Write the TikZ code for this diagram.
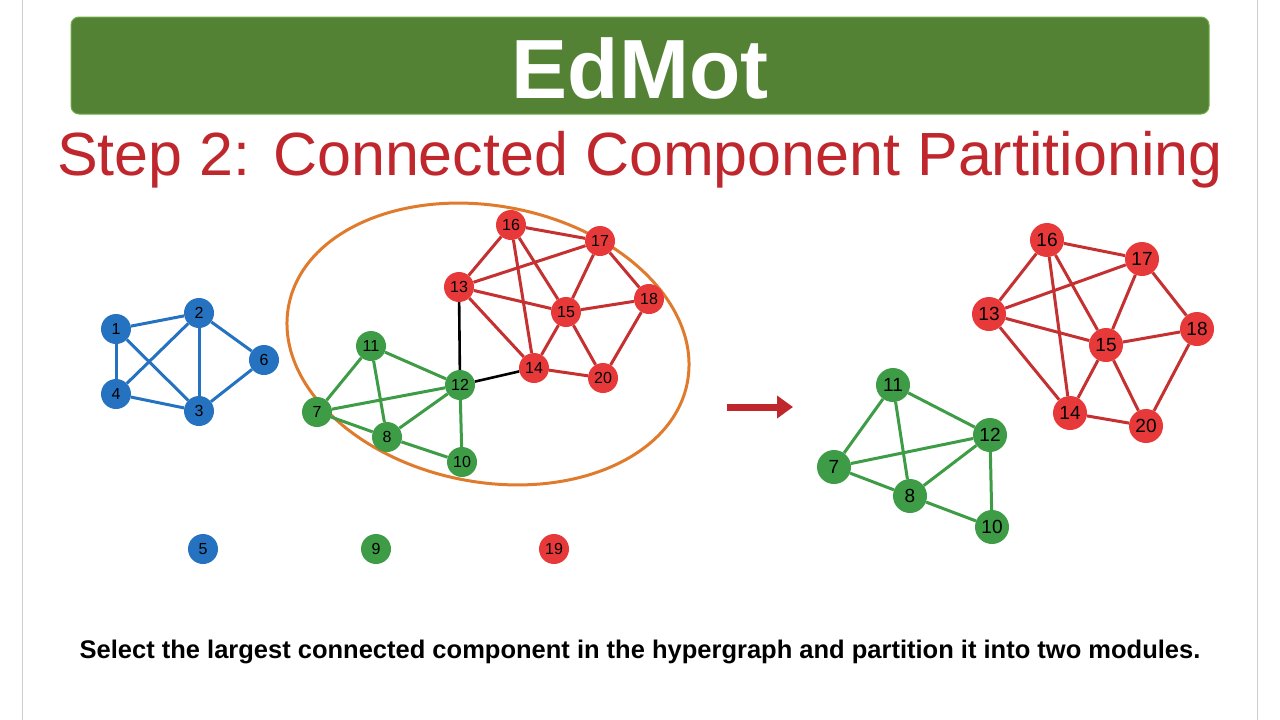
\documentclass[tikz,border=0pt]{standalone}
\usepackage{fontspec}
\setmainfont{Liberation Sans}
\usetikzlibrary{arrows.meta}
\definecolor{bl}{HTML}{2472C0}
\definecolor{gr}{HTML}{3E9B46}
\definecolor{rd}{HTML}{E8393A}
\definecolor{ban}{HTML}{548235}
\definecolor{banb}{HTML}{70AD47}
\definecolor{ttl}{HTML}{C0272D}
\definecolor{orng}{HTML}{E07B2E}
\tikzset{
 nd/.style={circle,minimum size=#1,inner sep=0pt,font=\fontsize{16}{16}\selectfont},
 bn/.style={nd=30pt,fill=bl},
 gn/.style={nd=30pt,fill=gr},
 rn/.style={nd=30pt,fill=rd},
 bgn/.style={nd=34pt,fill=gr,font=\fontsize{19}{19}\selectfont},
 brn/.style={nd=34pt,fill=rd,font=\fontsize{19}{19}\selectfont},
 be/.style={bl,line width=3pt},
 ge/.style={gr,line width=3pt},
 re/.style={rd!85!black,line width=3pt},
 ke/.style={black,line width=2.6pt},
}
\begin{document}
\begin{tikzpicture}[x=1pt,y=-1pt]
\useasboundingbox (0,0) rectangle (1280,720);
\fill[white] (0,0) rectangle (1280,720);
\draw[gray!40,line width=1pt] (22,0) -- (22,720) (1257,0) -- (1257,720);
\node[draw=banb,fill=ban,line width=1pt,rounded corners=8pt,minimum width=1138pt,minimum height=97pt] (banner) at (640,65.5) {};
\node[text=white,font=\fontsize{84}{84}\selectfont\bfseries] (title) at (640,68) {EdMot};
\node[text=ttl,font=\fontsize{61}{61}\selectfont] (step) at (640,160) {Step 2: Connected Component Partitioning};
\draw[orng,line width=3pt,rotate around={-11:(488,344)}] (488,344) ellipse [x radius=203, y radius=138];
% left graph
\foreach \n/\x/\y in {1/116/329,2/199/313,6/264/360,4/116/394,3/199/411,5/203/549}
  \node[bn] (a\n) at (\x,\y) {\n};
\foreach \u/\v in {1/2,1/4,1/3,4/2,4/3,2/3,2/6,6/3}
  \draw[be] (a\u) -- (a\v);
% middle graph
\foreach \n/\x/\y in {11/371/346,12/460/385,7/317/412,8/387/437,10/462/462,9/376/549}
  \node[gn] (m\n) at (\x,\y) {\n};
\foreach \n/\x/\y in {16/511/225,17/600/241,13/459/287,15/566/312,18/649/299,14/534/368,20/603/378,19/554/549}
  \node[rn] (m\n) at (\x,\y) {\n};
\foreach \u/\v in {11/7,11/8,11/12,7/12,7/8,8/12,8/10,12/10}
  \draw[ge] (m\u) -- (m\v);
\foreach \u/\v in {16/13,16/17,16/14,16/15,13/17,13/15,13/14,17/15,17/18,15/18,15/14,15/20,18/20,14/20}
  \draw[re] (m\u) -- (m\v);
\draw[ke] (m12) -- (m13);
\draw[ke] (m12) -- (m14);
% arrow
\coordinate (as) at (727,407);
\coordinate (ae) at (793,407);
\draw[ttl,line width=7pt,-{Triangle[length=16pt,width=22pt]}] (as) -- (ae);
% right graph
\foreach \n/\x/\y in {11/893/385,12/990/435,7/834/467,8/910/496,10/992/527}
  \node[bgn] (r\n) at (\x,\y) {\n};
\foreach \n/\x/\y in {16/1047/240,17/1142/259,13/989/314,15/1106/345,18/1197/329,14/1070/413,20/1146/426}
  \node[brn] (r\n) at (\x,\y) {\n};
\foreach \u/\v in {11/7,11/8,11/12,7/12,7/8,8/12,8/10,12/10}
  \draw[ge] (r\u) -- (r\v);
\foreach \u/\v in {16/13,16/17,16/14,16/15,13/17,13/15,13/14,17/15,17/18,15/18,15/14,15/20,18/20,14/20}
  \draw[re] (r\u) -- (r\v);
\node[font=\fontsize{25.5}{25.5}\selectfont\bfseries] (cap) at (640,652) {Select the largest connected component in the hypergraph and partition it into two modules.};
\end{tikzpicture}
\end{document}
